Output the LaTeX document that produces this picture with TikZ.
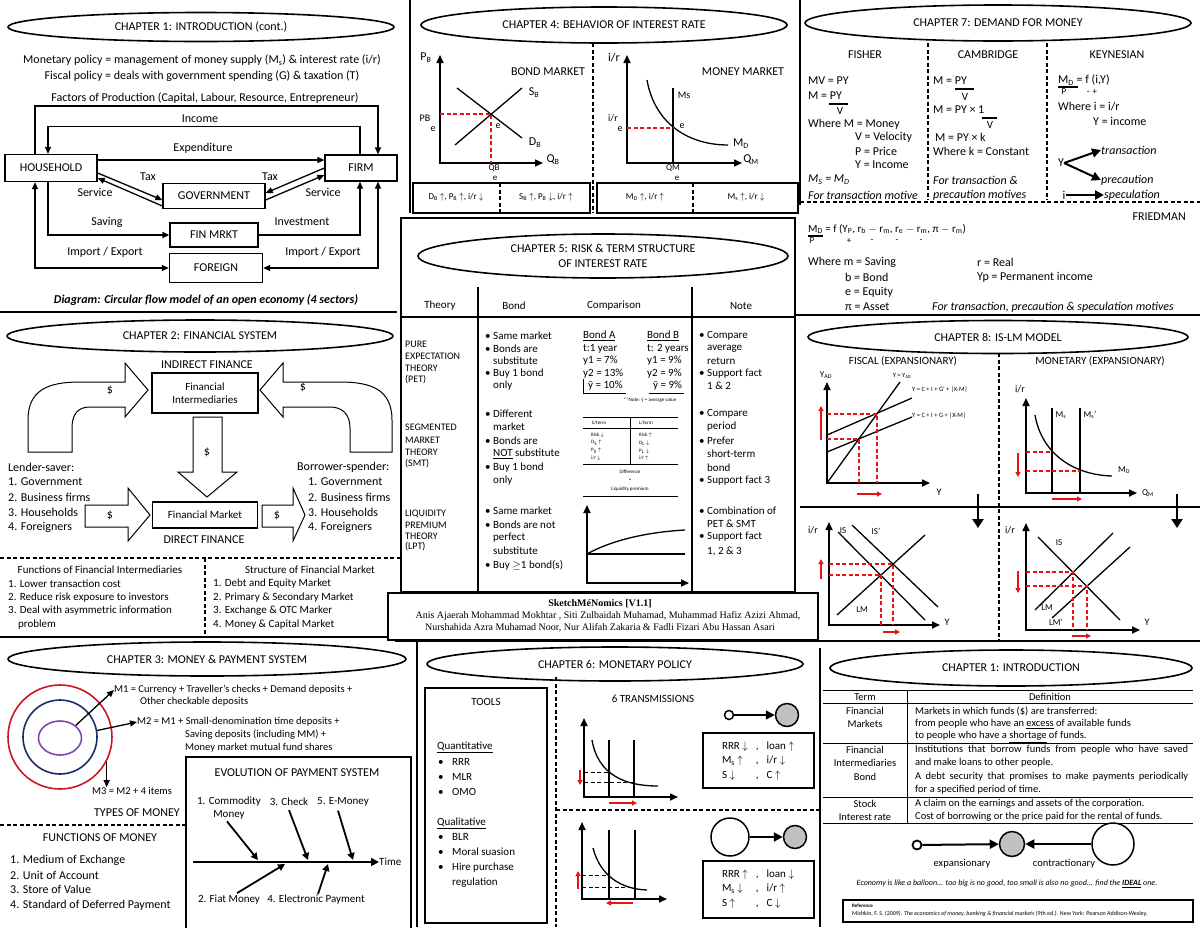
\documentclass[tikz,border=0pt]{standalone}
\usepackage{fontspec}
\setmainfont{Carlito}
\newfontfamily\authfont{Liberation Serif}
\usetikzlibrary{arrows.meta,positioning,shapes.geometric,calc}
\definecolor{ringred}{RGB}{204,24,36}
\definecolor{ringblue}{RGB}{28,42,110}
\definecolor{ringviolet}{RGB}{130,70,180}
\definecolor{ballgray}{RGB}{192,192,192}
\definecolor{guidered}{RGB}{230,20,20}
\newcommand\fA{\fontsize{12}{14}\selectfont}
\newcommand\fB{\fontsize{11}{13}\selectfont}
\newcommand\fBB{\fontsize{10.5}{12.5}\selectfont}
\newcommand\fC{\fontsize{10}{12}\selectfont}
\newcommand\fD{\fontsize{9}{10.5}\selectfont}
\newcommand\fF{\fontsize{6.5}{8}\selectfont}
\newcommand\fE{\fontsize{5}{6}\selectfont}
\newcommand\arU{\ensuremath{\uparrow}}
\newcommand\arD{\ensuremath{\downarrow}}
\newcommand\sbs[1]{\textsubscript{#1}}
\newcommand\bitem{\makebox[8pt][l]{\textbullet}}
\tikzset{
  chap/.style={ellipse, draw, line width=1.6pt, inner sep=0pt, font=\fA},
  sector/.style={draw, line width=1.3pt, minimum height=25, inner sep=2pt, font=\fA},
  lbl/.style={inner sep=0pt, font=\fA},
  lw/.style={lbl, anchor=west},
  flow/.style={line width=1.3pt, -{Triangle[length=7pt,width=6pt]}},
  twoway/.style={line width=1.3pt, {Triangle[length=7pt,width=6pt]}-{Triangle[length=7pt,width=6pt]}},
  heavy/.style={line width=2pt, -{Triangle[length=9pt,width=9pt]}},
  axes/.style={line width=1.6pt, {Triangle[length=8pt,width=7pt]}-{Triangle[length=8pt,width=7pt]}},
  curve/.style={line width=1.3pt},
  guide/.style={guidered, line width=1.3pt, dash pattern=on 4pt off 2.5pt},
  blackguide/.style={line width=1pt, dash pattern=on 4pt off 2.5pt},
  redarr/.style={guidered, line width=1.4pt, -{Triangle[length=5pt,width=5pt]}},
  rule/.style={line width=1.6pt},
  split/.style={line width=1.3pt, dash pattern=on 4pt off 2.5pt},
  thinrule/.style={line width=0.8pt},
  hollow/.style={draw, line width=1pt, fill=white},
  bar/.style={line width=1.4pt},
  dot/.style={circle, draw, line width=1.5pt, inner sep=0pt},
}
\begin{document}
\begin{tikzpicture}[x=1pt,y=-1pt]
\fill[white] (0,0) rectangle (1200,927);
\useasboundingbox (0,0) rectangle (1200,927);

% panel rules
\draw[rule] (0,312) -- (397,312);
\draw[rule] (410,0) -- (410,213);
\draw[rule] (800,0) -- (800,205);
\draw[split] (800,202) -- (1200,202);
\draw[rule] (795,315) -- (1200,315);
\draw[rule] (795,315) -- (795,593);
\draw[rule] (0,637) -- (390,637);
\draw[rule] (395,641) -- (1200,641);
\draw[rule] (417,641) -- (417,927);
\draw[rule] (820,648) -- (820,927);

% ---------- chapter 1 (cont.) ----------
\node[chap, minimum width=386, minimum height=29] (t1b) at (201,27) {CHAPTER 1: INTRODUCTION (cont.)};
\node[lbl] (monpol) at (202,60) {Monetary policy = management of money supply (M\sbs{s}) \& interest rate (i/r)};
\node[lbl] (fispol) at (202,76) {Fiscal policy = deals with government spending (G) \& taxation (T)};
\node[lbl] (factors) at (205,98) {Factors of Production (Capital, Labour, Resource, Entrepreneur)};
\node[sector, minimum width=92, minimum height=27] (hh) at (51,168) {HOUSEHOLD};
\node[sector, minimum width=72, minimum height=26] (firm) at (361,168) {FIRM};
\node[sector, minimum width=102] (gov) at (214,196) {GOVERNMENT};
\node[sector, minimum width=88, minimum height=24] (finm) at (214,235) {FIN MRKT};
\node[sector, minimum width=93, minimum height=29] (forn) at (216,268) {FOREIGN};
% flows
\draw[flow] ([xshift=-16pt]hh.north) -- ++(0,-48) -| ([xshift=17pt]firm.north);
\draw[flow] ([xshift=-1pt]firm.north) -- ++(0,-28) -| ([xshift=-3pt]hh.north);
\draw[flow] ([yshift=8pt]hh.east) -- ([yshift=8pt]firm.west);
\draw[flow] ([yshift=-5pt]hh.east) -- ([yshift=-4pt]gov.west);
\draw[flow] ([yshift=-10pt]gov.west) -- ([yshift=-10pt]hh.east);
\draw[flow] (firm.west) -- ([yshift=3pt]gov.east);
\draw[flow] ([yshift=-4pt]gov.east) -- ([yshift=-7pt]firm.west);
\draw[flow] ([xshift=-3pt]hh.south) |- (finm.west);
\draw[flow] (finm.east) -| ([xshift=-1pt]firm.south);
\draw[twoway] ([xshift=-16pt]hh.south) |- (forn.west);
\draw[twoway] (forn.east) -| ([xshift=17pt]firm.south);
\node[lbl] (incl) at (200,119) {Income};
\node[lbl] (expl) at (203,148) {Expenditure};
\node[lbl] (taxl) at (148,177) {Tax};
\node[lbl] (taxr) at (270,177) {Tax};
\node[lbl] (serl) at (95,192) {Service};
\node[lbl] (serr) at (323,192) {Service};
\node[lbl] (savl) at (107,222) {Saving};
\node[lbl] (invl) at (302,222) {Investment};
\node[lbl] (iexl) at (105,252) {Import / Export};
\node[lbl] (iexr) at (323,252) {Import / Export};
\node[lbl, font=\fA\bfseries\itshape] (cap1) at (206,300) {Diagram: Circular flow model of an open economy (4 sectors)};

% ---------- chapter 4 ----------
\node[chap, minimum width=366, minimum height=36] (t4) at (604,25) {CHAPTER 4: BEHAVIOR OF INTEREST RATE};
\draw[split] (593,43) -- (593,213);
% bond market
\draw[axes] (440,55) -- (440,163) -- (543,163);
\draw[curve] (457,88) -- (522,138);
\draw[curve] (455,145) -- (522,88);
\draw[guide] (440,114) -- (491,114) -- (491,163);
\node[lbl] (pbax) at (426,58) {P\sbs{B}};
\node[lbl] (qbax) at (553,160) {Q\sbs{B}};
\node[lbl] (sbl) at (534,93) {S\sbs{B}};
\node[lbl] (dbl) at (535,143) {D\sbs{B}};
\node[lbl, font=\fC] (pbe) at (425,118) {PB};
\node[lbl, font=\fC] (pbe2) at (433,129) {e};
\node[lbl, font=\fC] (eb) at (498,126) {e};
\node[lbl, font=\fD] (qbe) at (494,168) {QB};
\node[lbl, font=\fD] (qbe2) at (495,178) {e};
\node[lbl] (bondm) at (548,72) {BOND MARKET};
% money market
\draw[axes] (627,55) -- (627,163) -- (742,163);
\draw[curve] (647,80) .. controls (655,125) and (690,145) .. (728,145);
\draw[curve] (673,88) -- (673,163);
\draw[guide] (627,128) -- (673,128);
\node[lbl] (irax) at (614,58) {i/r};
\node[lbl] (qmax) at (751,160) {Q\sbs{M}};
\node[lbl, font=\fC] (msl) at (684,95) {Ms};
\node[lbl] (mdl) at (741,144) {M\sbs{D}};
\node[lbl, font=\fC] (ire) at (613,118) {i/r};
\node[lbl, font=\fC] (ire2) at (620,129) {e};
\node[lbl, font=\fC] (em) at (682,126) {e};
\node[lbl, font=\fD] (qme) at (673,168) {QM};
\node[lbl, font=\fD] (qme2) at (677,178) {e};
\node[lbl] (monm) at (743,72) {MONEY MARKET};
% effects
\draw[rule] (413,183) rectangle (590,213);
\draw[split] (500,183) -- (500,213);
\draw[rule] (597,183) rectangle (798,213);
\draw[split] (693,183) -- (693,213);
\node[lbl, font=\fD] (eff1) at (456,197) {D\sbs{B} \arU, P\sbs{B} \arU, i/r \arD};
\node[lbl, font=\fD] (eff2) at (546,197) {S\sbs{B} \arU, P\sbs{B} \arD, i/r \arU};
\node[lbl, font=\fD] (eff3) at (645,197) {M\sbs{D} \arU, i/r \arU};
\node[lbl, font=\fD] (eff4) at (746,197) {M\sbs{s} \arU, i/r \arD};

% ---------- chapter 7 ----------
\node[chap, minimum width=386, minimum height=36] (t7) at (998,23) {CHAPTER 7: DEMAND FOR MONEY};
\draw[split] (928,43) -- (928,200);
\draw[split] (1047,43) -- (1047,200);
\node[lbl] (fisher) at (865,55) {FISHER};
\node[lbl] (camb) at (988,55) {CAMBRIDGE};
\node[lbl] (keyn) at (1117,55) {KEYNESIAN};
% fisher
\node[lw] (fs1) at (808,81) {MV = PY};
\node[lw] (fs2) at (808,96) {M = PY};
\draw[bar] (829,104) -- (848,104);
\node[lbl, font=\fB] (fs2v) at (840,111) {V};
\node[lw] (fs3) at (808,124) {Where M = Money};
\node[lw] (fs4) at (855,137) {V = Velocity};
\node[lw] (fs5) at (855,151) {P = Price};
\node[lw] (fs6) at (855,165) {Y = Income};
\node[lw, font=\fA\itshape] (fs7) at (808,180) {M\sbs{S} = M\sbs{D}};
\node[lw, font=\fA\itshape] (fs8) at (808,195) {For transaction motive};
% cambridge
\node[lw] (cb1) at (933,81) {M = PY};
\draw[bar] (955,89) -- (974,89);
\node[lbl, font=\fB] (cb1v) at (965,97) {V};
\node[lw] (cb2) at (933,110) {M = PY × 1};
\draw[bar] (982,118) -- (997,118);
\node[lbl, font=\fB] (cb2v) at (990,125) {V};
\node[lw] (cb3) at (935,137) {M = PY × k};
\node[lw] (cb4) at (933,151) {Where k = Constant};
\node[lw, font=\fA\itshape] (cb5) at (933,180) {For transaction \&};
\node[lw, font=\fA\itshape] (cb6) at (933,195) {precaution motives};
% keynesian
\node[lw] (kn1) at (1058,80) {M\sbs{D} = f (i,Y)};
\draw[bar] (1058,87) -- (1078,87);
\node[lbl, font=\fD] (kn1p) at (1064,92) {P};
\node[lbl, font=\fD] (kn1s) at (1092,92) {-\,\,+};
\node[lw] (kn2) at (1058,107) {Where i = i/r};
\node[lw] (kn3) at (1093,121) {Y = income};
\node[lbl] (kny) at (1061,163) {Y};
\node[lw, font=\fA\itshape] (knt) at (1101,150) {transaction};
\node[lw, font=\fA\itshape] (knp) at (1101,180) {precaution};
\node[lbl] (kni) at (1064,195) {i};
\node[lw, font=\fA\itshape] (kns) at (1104,195) {speculation};
\draw[heavy] (kny.east) -- (knt.west);
\draw[heavy] (kny.east) -- (knp.west);
\draw[heavy] (kni.east) -- (kns.west);
% friedman
\node[lbl, anchor=east] (fried) at (1186,217) {FRIEDMAN};
\node[lw, font=\fB] (fr1) at (808,229) {M\sbs{D} = f (Y\sbs{P}, r\sbs{b} $-$ r\sbs{m}, r\sbs{e} $-$ r\sbs{m}, π $-$ r\sbs{m})};
\draw[bar] (808,236) -- (823,236);
\node[lbl, font=\fD] (fr1p) at (812,241) {P};
\foreach \s/\x [count=\i] in {+/849, -/872, -/897, -/921}
  \node[lbl, font=\fD] (frs\i) at (\x,241) {\s};
\node[lw] (fr2) at (808,262) {Where m = Saving};
\node[lw] (fr3) at (845,277) {b = Bond};
\node[lw] (fr4) at (845,292) {e = Equity};
\node[lw] (fr5) at (845,307) {π = Asset};
\node[lw] (fr6) at (977,262) {r = Real};
\node[lw] (fr7) at (977,277) {Yp = Permanent income};
\node[lw, font=\fA\itshape] (fr8) at (932,307) {For transaction, precaution \& speculation motives};

% ---------- chapter 2 ----------
\node[chap, minimum width=386, minimum height=32] (t2) at (200,336) {CHAPTER 2: FINANCIAL SYSTEM};
\node[lbl] (indir) at (207,365) {INDIRECT FINANCE};
\node[lbl] (dirf) at (204,540) {DIRECT FINANCE};
% hollow money arrows
\draw[hollow] (28,452) -- (28,420) .. controls (28,390) and (48,382) .. (80,382) -- (125,382) -- (125,363) -- (148,390) -- (125,417) -- (125,407) -- (90,407) .. controls (78,407) and (72,414) .. (72,428) -- (72,452) -- cycle;
\draw[hollow] (392,452) -- (392,420) .. controls (392,390) and (372,382) .. (340,382) -- (283,382) -- (283,363) -- (260,390) -- (283,417) -- (283,407) -- (330,407) .. controls (342,407) and (350,414) .. (350,428) -- (350,452) -- cycle;
\draw[hollow] (193,417) -- (222,417) -- (222,472) -- (237,472) -- (207,497) -- (178,472) -- (193,472) -- cycle;
\draw[hollow] (85,505) -- (128,505) -- (128,488) -- (150,515) -- (128,541) -- (128,527) -- (85,527) -- cycle;
\draw[hollow] (262,505) -- (293,505) -- (293,488) -- (305,515) -- (293,541) -- (293,527) -- (262,527) -- cycle;
\node[draw, line width=1.6pt, minimum width=106, minimum height=40, align=center, font=\fB] (fint) at (205,393) {Financial\\Intermediaries};
\node[draw, line width=1.6pt, minimum width=105, minimum height=26, font=\fB] (fmkt) at (205,515) {Financial Market};
\node[lbl] (usd1) at (110,390) {\$};
\node[lbl] (usd2) at (303,387) {\$};
\node[lbl] (usd3) at (207,452) {\$};
\node[lbl] (usd4) at (110,515) {\$};
\node[lbl] (usd5) at (277,515) {\$};
\node[lw] (lend) at (8,467) {Lender-saver:};
\node[lw] (borr) at (297,467) {Borrower-spender:};
\foreach \t [count=\i] in {1. Government, 2. Business firms, 3. Households, 4. Foreigners} {
  \node[lw] (lend\i) at (8,{467+15*\i}) {\t};
  \node[lw] (borr\i) at (308,{467+15*\i}) {\t};
}
\draw[split] (0,558) -- (400,558);
\draw[split] (205,558) -- (205,637);
\node[lbl, font=\fB] (funfi) at (100,570) {Functions of Financial Intermediaries};
\node[lbl, font=\fB] (strfm) at (310,570) {Structure of Financial Market};
\node[lw, font=\fB] (fun1) at (8,584) {1. Lower transaction cost};
\node[lw, font=\fB] (fun2) at (8,597.5) {2. Reduce risk exposure to investors};
\node[lw, font=\fB] (fun3) at (8,611) {3. Deal with asymmetric information};
\node[lw, font=\fB] (fun4) at (18,625) {problem};
\node[lw, font=\fB] (str1) at (213,584) {1. Debt and Equity Market};
\node[lw, font=\fB] (str2) at (213,597.5) {2. Primary \& Secondary Market};
\node[lw, font=\fB] (str3) at (213,611) {3. Exchange \& OTC Marker};
\node[lw, font=\fB] (str4) at (213,625) {4. Money \& Capital Market};

% ---------- chapter 5 ----------
\draw[rule] (401,218) rectangle (795,592);
\node[chap, minimum width=370, minimum height=44, align=center, font={\fontsize{12}{15}\selectfont}] (t5) at (603,256) {CHAPTER 5: RISK \& TERM STRUCTURE\\OF INTEREST RATE};
\draw[line width=1.2pt] (478,287) -- (478,592);
\draw[line width=1.2pt] (692,287) -- (692,592);
\draw[line width=1.2pt] (401,317) -- (795,317);
\node[lbl, font=\fB] (hth) at (440,306) {Theory};
\node[lbl, font=\fB] (hbo) at (514,306) {Bond};
\node[lbl, font=\fB] (hco) at (614,306) {Comparison};
\node[lbl, font=\fB] (hno) at (741,306) {Note};
% theory names
\foreach \t/\y [count=\i] in {PURE/344, EXPECTATION/356, THEORY/368, (PET)/380,
  SEGMENTED/427, MARKET/440, THEORY/452, (SMT)/464,
  LIQUIDITY/514, PREMIUM/525, THEORY/536, (LPT)/547}
  \node[lw, font=\fC] (thn\i) at (405,\y) {\t};
% bond column
\foreach \t/\x/\y [count=\i] in {\bitem Same market/485/336, \bitem Bonds are/485/348.5, substitute/493/361,
  \bitem Buy 1 bond/485/373.5, only/493/386,
  \bitem Different/485/414, market/493/427, \bitem Bonds are/485/441,
  \underline{NOT} substitute/493/454, \bitem Buy 1 bond/485/468, only/493/481,
  \bitem Same market/485/511, \bitem Bonds are not/485/525, perfect/493/538,
  substitute/493/551, \bitem Buy $\geq$1 bond(s)/485/565}
  \node[lw, font=\fB] (bnd\i) at (\x,\y) {\t};
% note column
\foreach \t/\x/\y [count=\i] in {\bitem Compare/699/336, average/707/348.5, return/707/361,
  \bitem Support fact/699/373.5, 1 \& 2/707/386,
  \bitem Compare/699/414, period/707/427, \bitem Prefer/699/441, short-term/707/454,
  bond/707/468, \bitem Support fact 3/699/481,
  \bitem Combination of/699/511, PET \& SMT/707/524, \bitem Support fact/699/537,
  {1, 2 \& 3}/707/551}
  \node[lw, font=\fB] (nte\i) at (\x,\y) {\t};
% comparison: PET
\node[lw, font=\fB] (bda) at (583,336) {\underline{Bond A}};
\node[lw, font=\fB] (bdb) at (647,336) {\underline{Bond B}};
\foreach \a/\b/\y [count=\i] in {t:1 year/t: 2 years/348.5, y1 = 7\%/y1 = 9\%/361, y2 = 13\%/y2 = 9\%/373.5}{
  \node[lw, font=\fB] (cpa\i) at (583,\y) {\a};
  \node[lw, font=\fB] (cpb\i) at (647,\y) {\b};
}
\node[lw, font=\fB] (ybara) at (588,386) {\={y} = 10\%};
\node[lw, font=\fB] (ybarb) at (653,386) {\={y} = 9\%};
\draw[thinrule] (583,379) -- (583,393) -- (626,393);
\draw[thinrule] (649,393) -- (684,393);
\node[lbl, font=\fE] (ybarn) at (650,400) {**Note: \={y} = average value};
% comparison: SMT
\draw[thinrule] (583,417) -- (678,417);
\draw[thinrule] (583,428) -- (678,428);
\draw[thinrule] (583,464) -- (678,464);
\draw[thinrule] (583,496) -- (678,496);
\draw[thinrule] (630,417) -- (630,464);
\node[lbl, font=\fE] (smth1) at (599,423) {S/term};
\node[lbl, font=\fE] (smth2) at (646,423) {L/term};
\foreach \a/\b/\y [count=\i] in {Risk \arD/Risk \arU/435, D\sbs{S} \arU/D\sbs{L} \arD/443, P\sbs{S} \arU/P\sbs{L} \arD/451, {i/r \arD}/{i/r \arU}/458}{
  \node[lw, font=\fE] (sms\i) at (591,\y) {\a};
  \node[lw, font=\fE] (sml\i) at (639,\y) {\b};
}
\node[lbl, font=\fE] (smd1) at (630,472) {Difference};
\node[lbl, font=\fE] (smd2) at (630,480) {=};
\node[lbl, font=\fE] (smd3) at (630,489) {Liquidity premium};
% comparison: LPT
\draw[line width=1.8pt, {Triangle[length=8pt,width=7pt]}-{Triangle[length=8pt,width=7pt]}] (587,505) -- (587,583) -- (689,583);
\draw[curve] (587,554) -- (685,554);
\draw[curve] (587,554) .. controls (612,540) and (648,532) .. (685,530);

% ---------- credits ----------
\draw[rule, fill=white] (388,593) rectangle (818,640);
\node[lbl, font={\authfont\bfseries\fontsize{10}{12}\selectfont}] (sket) at (600,604) {SketchMéNomics [V1.1]};
\node[lbl, font={\authfont\fontsize{10}{12}\selectfont}] (auth1) at (608,616) {Anis Ajaerah Mohammad Mokhtar , Siti Zulbaidah Muhamad, Muhammad Hafiz Azizi Ahmad,};
\node[lbl, font={\authfont\fontsize{10}{12}\selectfont}] (auth2) at (600,628) {Nurshahida Azra Muhamad Noor, Nur Alifah Zakaria \& Fadli Fizari Abu Hassan Asari};

% ---------- chapter 8 ----------
\node[chap, minimum width=380, minimum height=33] (t8) at (998,337) {CHAPTER 8: IS-LM MODEL};
\draw[split] (999,353) -- (999,641);
\draw[rule] (800,507) -- (1200,507);
\node[lbl, font=\fB] (fisc8) at (903,361) {FISCAL (EXPANSIONARY)};
\node[lbl, font=\fB] (mont8) at (1100,361) {MONETARY (EXPANSIONARY)};
% fiscal: AD cross
\draw[axes] (827,382) -- (827,483) -- (930,483);
\draw[curve] (827,483) -- (900,382);
\draw[curve] (827,452) -- (912,417);
\draw[curve] (827,435) -- (912,398);
\draw[guide] (827,439) -- (859,439) -- (859,483);
\draw[guide] (827,414) -- (877,414) -- (877,483);
\draw[redarr] (821,440) -- (821,406);
\draw[redarr] (857,494) -- (882,494);
\node[lbl, font=\fD] (yad) at (826,375) {Y\sbs{AD}};
\node[lbl, font=\fF] (l45) at (902,376) {Y = Y\sbs{AD}};
\node[lw, font=\fF] (lad2) at (912,390) {Y = C + I + G' + |X-M|};
\node[lw, font=\fF] (lad1) at (912,416) {Y = C + I + G + |X-M|};
\node[lbl, font=\fC] (yax1) at (939,492) {Y};
% monetary: money market
\draw[axes] (1026,398) -- (1026,493) -- (1137,493);
\draw[curve] (1035,415) .. controls (1042,455) and (1075,475) .. (1112,476);
\draw[curve] (1052,408) -- (1052,493);
\draw[curve] (1080,408) -- (1080,493);
\draw[guide] (1026,452) -- (1052,452);
\draw[guide] (1026,471) -- (1080,471);
\draw[redarr] (1018,453) -- (1018,477);
\draw[redarr] (1052,499) -- (1082,499);
\node[lbl, font=\fC] (irm8) at (1020,389) {i/r};
\node[lbl, font=\fD] (qm8) at (1148,493) {Q\sbs{M}};
\node[lbl, font=\fD] (ms8) at (1061,415) {M\sbs{s}};
\node[lbl, font=\fD] (ms8b) at (1090,415) {M\sbs{s}'};
\node[lbl, font=\fD] (md8) at (1124,470) {M\sbs{D}};
% transmission to IS-LM
\draw[line width=2.6pt, -{Triangle[length=9pt,width=11pt]}] (978,494) -- (978,528);
\draw[line width=2.6pt, -{Triangle[length=9pt,width=11pt]}] (1177,494) -- (1177,528);
% fiscal: IS-LM
\draw[axes] (829,522) -- (829,625) -- (940,625);
\draw[curve] (838,532) -- (925,620);
\draw[curve] (852,525) -- (938,607);
\draw[curve] (837,615) -- (925,535);
\draw[guide] (829,575) -- (881,575) -- (881,625);
\draw[guide] (829,564) -- (893,564) -- (893,625);
\draw[redarr] (821,579) -- (821,559);
\draw[redarr] (883,632) -- (900,632);
\node[lbl, font=\fC] (ir8a) at (813,530) {i/r};
\node[lbl, font=\fC] (y8a) at (947,622) {Y};
\node[lbl, font=\fD] (is8a) at (843,531) {IS};
\node[lbl, font=\fD] (is8b) at (876,531) {IS'};
\node[lbl, font=\fD] (lm8a) at (862,610) {LM};
% monetary: IS-LM
\draw[axes] (1026,523) -- (1026,630) -- (1140,630);
\draw[curve] (1038,537) -- (1120,620);
\draw[curve] (1035,610) -- (1113,533);
\draw[curve] (1052,618) -- (1130,547);
\draw[guide] (1026,572) -- (1073,572) -- (1073,630);
\draw[guide] (1026,586) -- (1087,586) -- (1087,630);
\draw[redarr] (1018,571) -- (1018,593);
\draw[redarr] (1072,636) -- (1091,636);
\node[lbl, font=\fC] (ir8b) at (1010,530) {i/r};
\node[lbl, font=\fC] (y8b) at (1147,622) {Y};
\node[lbl, font=\fD] (is8c) at (1059,543) {IS};
\node[lbl, font=\fD] (lm8b) at (1047,608) {LM};
\node[lbl, font=\fD] (lm8c) at (1056,622) {LM'};

% ---------- chapter 3 ----------
\node[chap, minimum width=398, minimum height=34] (t3) at (207,659) {CHAPTER 3: MONEY \& PAYMENT SYSTEM};
\node[circle, draw=ringred, line width=1.6pt, minimum size=104, inner sep=0pt] (ringm3) at (60,737) {};
\node[circle, draw=ringblue, line width=1.6pt, minimum size=74, inner sep=0pt] (ringm2) at (60,737) {};
\node[ellipse, draw=ringviolet, line width=1.6pt, minimum width=43, minimum height=34, inner sep=0pt] (ringm1) at (60,738) {};
\node[lw, font=\fBB] (m1a) at (114,690) {M1 = Currency + Traveller's checks + Demand deposits +};
\node[lw, font=\fBB] (m1b) at (140,702) {Other checkable deposits};
\node[lw, font=\fBB] (m2a) at (137,722) {M2 = M1 + Small-denomination time deposits +};
\node[lw, font=\fBB] (m2b) at (185,735) {Saving deposits (including MM) +};
\node[lw, font=\fBB] (m2c) at (185,748) {Money market mutual fund shares};
\node[lw, font=\fBB] (m3a) at (92,791) {M3 = M2 + 4 items};
\draw[flow] (ringm1.north east) -- (m1a.west);
\draw[flow] (ringm2.10) -- (m2a.west);
\draw[flow] (ringm3.-28) -- (ringm3.-28 |- m3a.north);
\node[lbl] (typm) at (137,813) {TYPES OF MONEY};
\draw[split] (0,825) -- (186,825);
\node[lbl] (funm) at (100,838) {FUNCTIONS OF MONEY};
\foreach \t/\y [count=\i] in {1. Medium of Exchange/860, 2. Unit of Account/875, 3. Store of Value/889, 4. Standard of Deferred Payment/905}
  \node[lw] (fnm\i) at (10,\y) {\t};
% evolution of payment
\draw[rule, fill=white] (186,757) rectangle (411,929);
\node[lbl] (evot) at (297,773) {EVOLUTION OF PAYMENT SYSTEM};
\node[lw, font=\fB] (timel) at (379,862) {Time};
\coordinate (tstart) at (193,862);
\draw[line width=1.8pt, -{Triangle[length=8pt,width=8pt]}] (tstart) -- (timel.west);
\node[lbl, font=\fB, align=center] (ev1) at (229,808) {1. Commodity\\Money};
\node[lbl, font=\fB] (ev3) at (289,802) {3. Check};
\node[lbl, font=\fB] (ev5) at (343,802) {5. E-Money};
\node[lbl, font=\fB] (ev2) at (229,900) {2. Fiat Money};
\node[lbl, font=\fB] (ev4) at (316,900) {4. Electronic Payment};
\coordinate (hit1) at (258,860);
\coordinate (hit3) at (308,860);
\coordinate (hit5) at (353,860);
\coordinate (hit2) at (285,864);
\coordinate (hit4) at (328,864);
\draw[line width=1.8pt, -{Triangle[length=7pt,width=7pt]}] ([xshift=-2pt, yshift=-2pt]ev1.south) -- (hit1);
\draw[line width=1.8pt, -{Triangle[length=7pt,width=7pt]}] ([yshift=-4pt]ev3.south) -- (hit3);
\draw[line width=1.8pt, -{Triangle[length=7pt,width=7pt]}] ([xshift=-5pt, yshift=-4pt]ev5.south) -- (hit5);
\draw[line width=1.8pt, -{Triangle[length=7pt,width=7pt]}] ([xshift=8pt, yshift=2pt]ev2.north) -- (hit2);
\draw[line width=1.8pt, -{Triangle[length=7pt,width=7pt]}] ([xshift=2pt, yshift=1pt]ev4.north) -- (hit4);

% ---------- chapter 6 ----------
\node[chap, minimum width=376, minimum height=34] (t6) at (615,664) {CHAPTER 6: MONETARY POLICY};
\draw[line width=1.3pt] (425,688) rectangle (547,923);
\draw[split] (556,677) -- (556,927);
\draw[split] (556,810) -- (820,810);
\node[lbl, font=\fB] (tools) at (486,702) {TOOLS};
\node[lw, font=\fB] (quant) at (437,747) {\underline{Quantitative}};
\node[lw, font=\fB] (qual) at (437,823) {\underline{Qualitative}};
\foreach \t/\y [count=\i] in {RRR/762, MLR/777, OMO/792, BLR/837, Moral suasion/852, Hire purchase/868}
  \node[lw, font=\fB] (tool\i) at (438,\y) {\makebox[14pt][l]{\textbullet}\t};
\node[lw, font=\fB] (tool7) at (452,883) {regulation};
\node[lbl, font=\fB] (trans) at (653,699) {6 TRANSMISSIONS};
% expansionary graph
\draw[axes] (584,718) -- (584,797) -- (678,797);
\draw[curve] (592,740) .. controls (598,775) and (625,786) .. (658,786);
\draw[curve] (609,740) -- (609,797);
\draw[curve] (634,740) -- (634,797);
\draw[blackguide] (584,772) -- (609,772);
\draw[blackguide] (584,782) -- (634,782);
\draw[redarr] (580,770) -- (580,785);
\draw[redarr] (609,803) -- (637,803);
\node[dot, minimum size=9] (sm6a) at (729,715) {};
\node[dot, fill=ballgray, minimum size=23] (gr6a) at (787,715) {};
\draw[heavy, line width=1.6pt] (sm6a) -- (gr6a);
\draw[line width=1.4pt] (703,733) rectangle (814,788);
\node[lbl, font={\fontsize{11}{14.5}\selectfont}] (eff6a) at (758,761) {\begin{tabular}{@{}l@{\hspace{8pt}}c@{\hspace{8pt}}l@{}}RRR \arD & , & loan \arU\\ M\sbs{s} \arU & , & i/r \arD\\ S \arD & , & C \arU\end{tabular}};
% contractionary graph
\draw[axes] (582,822) -- (582,899) -- (667,899);
\draw[curve] (593,848) .. controls (600,875) and (620,889) .. (647,890);
\draw[curve] (609,830) -- (609,899);
\draw[curve] (635,830) -- (635,899);
\draw[blackguide] (582,875) -- (609,875);
\draw[blackguide] (582,887) -- (635,887);
\draw[redarr] (578,889) -- (578,871);
\draw[redarr] (633,903) -- (606,903);
\node[dot, minimum size=38] (bg6b) at (730,837) {};
\node[dot, fill=ballgray, minimum size=23] (gr6b) at (795,837) {};
\draw[heavy, line width=2.4pt] (bg6b) -- (gr6b);
\draw[line width=1.4pt] (703,861) rectangle (814,918);
\node[lbl, font={\fontsize{11}{14.5}\selectfont}] (eff6b) at (758,889) {\begin{tabular}{@{}l@{\hspace{8pt}}c@{\hspace{8pt}}l@{}}RRR \arU & , & loan \arD\\ M\sbs{s} \arD & , & i/r \arU\\ S \arU & , & C \arD\end{tabular}};

% ---------- chapter 1 ----------
\node[chap, minimum width=362, minimum height=36] (t1a) at (1011,668) {CHAPTER 1: INTRODUCTION};
\draw[thinrule] (823,690) -- (1193,690);
\draw[thinrule] (823,703) -- (1193,703);
\draw[thinrule] (823,743) -- (1193,743);
\draw[thinrule] (823,797) -- (1193,797);
\draw[thinrule] (823,823) -- (1193,823);
\draw[thinrule] (907,690) -- (907,823);
\node[lbl, font=\fBB] (hterm) at (865,697) {Term};
\node[lbl, font=\fBB] (hdef) at (1050,697) {Definition};
\foreach \t/\y [count=\i] in {Financial/711, Markets/724, Financial/750, Intermediaries/763, Bond/777, Stock/804, Interest rate/817}
  \node[lbl, font=\fBB] (term\i) at (865,\y) {\t};
\node[lw, font=\fBB] (def1) at (915,711) {Markets in which funds (\$) are transferred:};
\node[lw, font=\fBB] (def2) at (915,724) {from people who have an \underline{excess} of available funds};
\node[lw, font=\fBB] (def3) at (915,737) {to people who have a \underline{shortage} of funds.};
\node[lw, font=\fBB] (def4) at (915,750) {\makebox[273pt][s]{Institutions that borrow funds from people who have saved}};
\node[lw, font=\fBB] (def5) at (915,763) {and make loans to other people.};
\node[lw, font=\fBB] (def6) at (915,777) {\makebox[273pt][s]{A debt security that promises to make payments periodically}};
\node[lw, font=\fBB] (def7) at (915,790) {for a specified period of time.};
\node[lw, font=\fBB] (def8) at (915,804) {A claim on the earnings and assets of the corporation.};
\node[lw, font=\fBB] (def9) at (915,817) {Cost of borrowing or the price paid for the rental of funds.};
% balloon sizes
\node[dot, line width=1.8pt, minimum size=9] (sm1) at (917,845) {};
\node[dot, fill=ballgray, minimum size=25] (gr1) at (1012,844) {};
\node[dot, minimum size=42] (bg1) at (1113,844) {};
\draw[heavy, line width=2pt] (sm1) -- (gr1);
\draw[heavy, line width=2pt] (bg1) -- (gr1);
\node[lbl, font=\fBB] (expa) at (962,864) {expansionary};
\node[lbl, font=\fBB] (cont) at (1064,864) {contractionary};
\node[lbl, font={\fontsize{8}{10}\selectfont\itshape}] (ballq) at (1007,884) {Economy is like a balloon... too big is no good, too small is also no good... find the \textbf{\underline{IDEAL}} one.};
\draw[line width=1.2pt] (843,900) rectangle (1193,922);
\node[lw, font=\fE\bfseries] (refh) at (852,906) {Reference};
\node[lw, font={\fontsize{6}{7}\selectfont}] (refc) at (852,914) {Mishkin, F. S. (2009). \textit{The economics of money, banking \& financial markets} (9th ed.). New York: Pearson Addison-Wesley.};
\end{tikzpicture}
\end{document}
